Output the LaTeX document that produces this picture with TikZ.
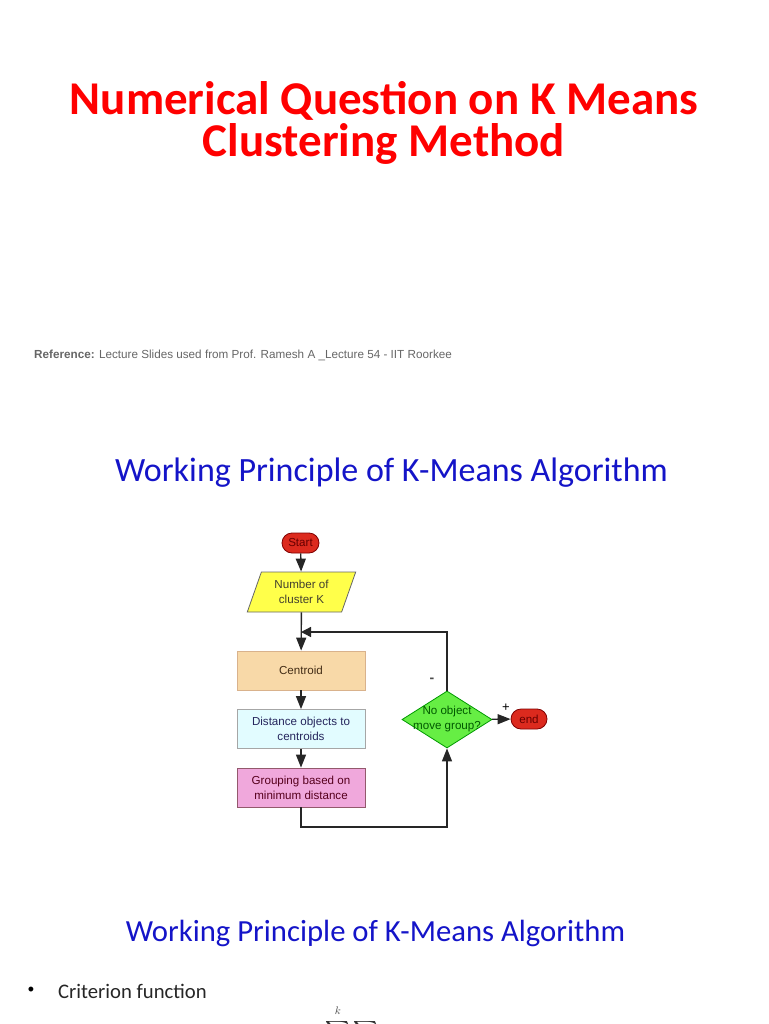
\documentclass[tikz,border=0pt]{standalone}
\usepackage{fontspec}
\usepackage{amsmath}
\setmainfont{Liberation Sans}
\newfontfamily\cali{Carlito}
\usetikzlibrary{shapes.geometric,shapes.misc,arrows.meta}
\definecolor{redtitle}{HTML}{FF0000}
\definecolor{bluetitle}{HTML}{1414C8}
\definecolor{reftext}{HTML}{666666}
\definecolor{termred}{HTML}{DC2A1E}
\definecolor{yellowfill}{HTML}{FFFF4A}
\definecolor{orangefill}{HTML}{F8D9A8}
\definecolor{cyanfill}{HTML}{E2FCFF}
\definecolor{pinkfill}{HTML}{F0A8DC}
\definecolor{greenfill}{HTML}{66EE44}
\tikzset{
  x=1pt,y=-1pt,
  flowtext/.style={font=\fontsize{11.6}{15}\selectfont,align=center,inner sep=0pt},
  stepbox/.style={rectangle,draw=#1,line width=0.8pt,minimum width=128pt,minimum height=39pt,flowtext},
  terminal/.style={rounded rectangle,draw=red!50!black,fill=termred,line width=0.8pt,flowtext},
  conn/.style={draw=black!85,line width=1.4pt,-{Triangle[length=13pt,width=10pt]}},
  shortconn/.style={draw=black!85,line width=1.4pt,-{Triangle[length=10pt,width=10pt]}},
}
\begin{document}
\begin{tikzpicture}
\useasboundingbox (0,0) rectangle (768,1024);
\node[text=redtitle,font=\cali\bfseries\fontsize{47}{42}\selectfont,align=center,inner sep=0pt] (title) at (384,123) {Numerical Question on K Means\\Clustering Method};
\node[text=reftext,font=\fontsize{11.7}{14}\selectfont,anchor=west,inner sep=0pt] (ref) at (34,355) {\textbf{Reference:} Lecture Slides used from Prof. Ramesh A \_Lecture 54 - IIT Roorkee};
\node[text=bluetitle,font=\cali\fontsize{34}{36}\selectfont,inner sep=0pt] (head1) at (391.5,473) {Working Principle of K-Means Algorithm};
\node[terminal,minimum width=37pt,minimum height=20pt,text=red!40!black] (start) at (300.5,543) {Start};
\node[trapezium,trapezium left angle=68,trapezium right angle=112,trapezium stretches=true,draw=black!60,fill=yellowfill,line width=0.8pt,minimum width=109pt,minimum height=40pt,flowtext,text=black!70!olive] (num) at (301.5,592) {Number of\\cluster K};
\node[stepbox=brown!60,fill=orangefill,text=black!65!brown] (cent) at (301,670.5) {Centroid};
\node[stepbox=gray!70,fill=cyanfill,text=blue!25!black!85] (dist) at (301,729) {Distance objects to\\centroids};
\node[stepbox=gray!70!purple,fill=pinkfill,text=purple!45!black] (group) at (301,787.5) {Grouping based on\\minimum distance};
\node[diamond,aspect=1.58,draw=black!40!green,fill=greenfill,line width=0.8pt,minimum width=90pt,minimum height=57pt,inner sep=0pt] (dec) at (447,719.5) {};
\node[flowtext,text=black!65!green] (dectext) at (447,719) {No object\\move group?};
\node[terminal,minimum width=36pt,minimum height=20pt,text=red!40!black] (end) at (529,719) {end};
\node[font=\fontsize{14}{14}\selectfont\bfseries,text=black!70,inner sep=0pt] (minus) at (432,680) {-};
\node[font=\fontsize{13}{13}\selectfont,inner sep=0pt] (plus) at (506,708) {+};
\coordinate (join) at (301,632);
\coordinate (fbturn) at (447,632);
\coordinate (loopa) at (301,827);
\coordinate (loopb) at (447,827);
\draw[conn] (start) -- (num);
\draw[conn] (num) -- (cent);
\draw[conn] (cent) -- (dist);
\draw[conn] (dist) -- (group);
\draw[conn] (dec) -- (end);
\draw[shortconn] (dec.north) -- (fbturn) -- (join);
\draw[conn] (group.south) -- (loopa) -- (loopb) -- (dec.south);
\node[text=bluetitle,font=\cali\fontsize{30.7}{33}\selectfont,inner sep=0pt] (head2) at (375.5,933) {Working Principle of K-Means Algorithm};
\node[font=\fontsize{18}{18}\selectfont,inner sep=0pt] (bullet) at (31,991) {•};
\node[text=black!85,font=\cali\fontsize{20.7}{24}\selectfont,anchor=west,inner sep=0pt] (crit) at (58,991) {Criterion function};
\node[text=black!75,inner sep=0pt,font=\fontsize{11}{11}\selectfont] (kidx) at (338,1011) {$k$};
\node[text=black!80,anchor=north,inner sep=0pt,font=\fontsize{17}{17}\selectfont] (formula) at (352,1020) {$\displaystyle\sum\sum$};
\end{tikzpicture}
\end{document}
